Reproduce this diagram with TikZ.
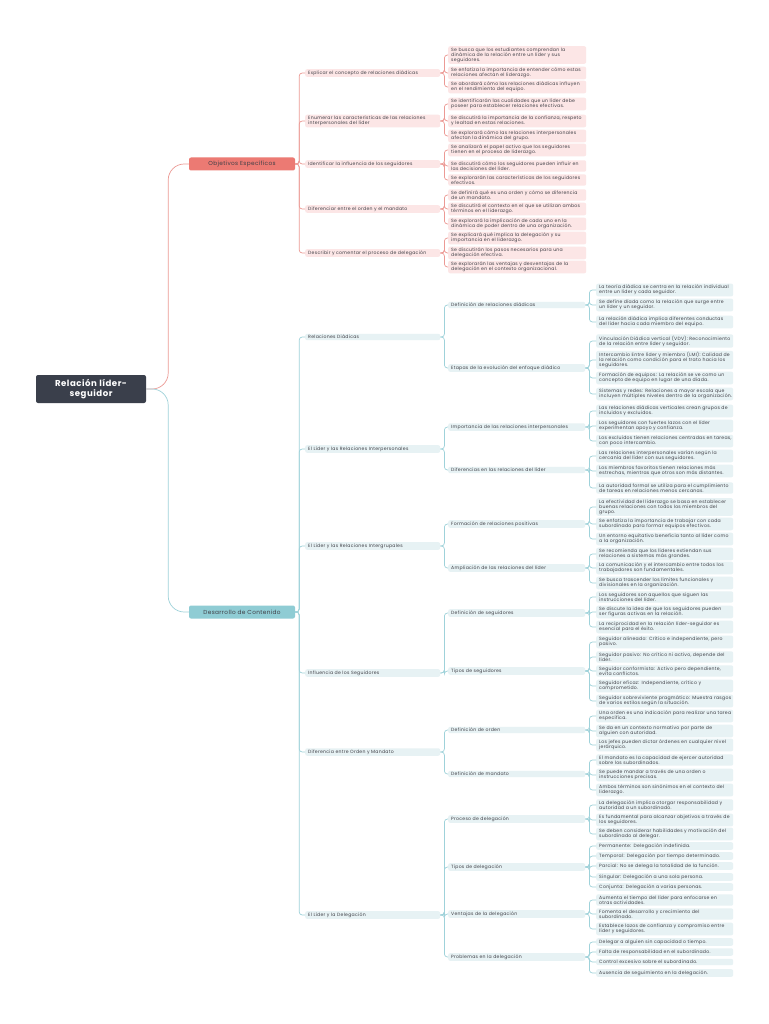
\documentclass[tikz,border=0pt]{standalone}
\usepackage{fontspec}
\setmainfont{Poppins}[LetterSpace=6]
\hyphenpenalty=10000
\exhyphenpenalty=10000
\usetikzlibrary{positioning}
\definecolor{pinkfill}{HTML}{FCE6E6}
\definecolor{pinkline}{HTML}{EC9A95}
\definecolor{redbox}{HTML}{EC7A73}
\definecolor{bluefill}{HTML}{E7F2F4}
\definecolor{blueline}{HTML}{9FD2DA}
\definecolor{tealbox}{HTML}{8FCCD4}
\definecolor{rootfill}{HTML}{3A3F4B}
\definecolor{txt}{HTML}{3F3F46}
\newcommand\tsz{\fontsize{4.6pt}{5pt}\selectfont}
\tikzset{
 base/.style={anchor=west,rounded corners=2pt,inner xsep=3pt,inner ysep=1.4pt,align=left,text=txt,font=\tsz},
 pleaf/.style={base,fill=pinkfill,text width=132pt},
 bleaf/.style={base,fill=bluefill,text width=131pt},
 pmid/.style={base,fill=pinkfill,text width=129pt},
 bmid/.style={base,fill=bluefill,text width=129pt},
 bmid3/.style={base,fill=bluefill,text width=131pt},
 fork/.style={to path={(\tikztostart) -- ++(4,0) |- (\tikztotarget)}},
 bigfork/.style={to path={(\tikztostart) -- ++(22,0) |- (\tikztotarget)}},
 pl/.style={draw=pinkline,line width=0.7pt,rounded corners=3pt},
 bl/.style={draw=blueline,line width=0.7pt,rounded corners=3pt},
}
\newcommand\pleafn[3]{\node[pleaf] (#1) at (448,#2) {#3};}
\newcommand\bleafn[3]{\node[bleaf] (#1) at (596,#2) {#3};}
\begin{document}
\begin{tikzpicture}[x=1pt,y=-1pt]
\useasboundingbox[fill=white] (0,0) rectangle (768,1024);
\node[fill=rootfill,rounded corners=2pt,text=white,font=\fontsize{8.6pt}{10pt}\selectfont\bfseries,align=center,minimum width=110pt,minimum height=28pt] (root) at (91,389) {Relación líder-\\seguidor};
\node[fill=redbox,rounded corners=2pt,text=txt,font=\fontsize{5.8pt}{6.5pt}\selectfont,minimum width=106pt,minimum height=13pt] (obj) at (242,164) {Objetivos Específicos};
\node[fill=tealbox,rounded corners=2pt,text=txt,font=\fontsize{5.8pt}{6.5pt}\selectfont,minimum width=106pt,minimum height=13pt] (des) at (242,612) {Desarrollo de Contenido};
\draw[pl,rounded corners=16pt] (root.east) to[bigfork] (obj.west);
\draw[bl,rounded corners=16pt] (root.east) to[bigfork] (des.west);
\node[pmid] (o1) at (305,73) {Explicar el concepto de relaciones diádicas};
\node[pmid] (o2) at (305,121) {Enumerar las características de las relaciones interpersonales del líder};
\node[pmid] (o3) at (305,164) {Identificar la influencia de los seguidores};
\node[pmid] (o4) at (305,209) {Diferenciar entre el orden y el mandato};
\node[pmid] (o5) at (305,253) {Describir y comentar el proceso de delegación};
\draw[pl] (obj.east) edge[fork] (o1.west) edge[fork] (o2.west) edge[fork] (o3.west) edge[fork] (o4.west) edge[fork] (o5.west);
\pleafn{p1}{55}{Se busca que los estudiantes comprendan la dinámica de la relación entre un líder y sus seguidores.}
\pleafn{p2}{73}{Se enfatiza la importancia de entender cómo estas relaciones afectan el liderazgo.}
\pleafn{p3}{87}{Se abordará cómo las relaciones diádicas influyen en el rendimiento del equipo.}
\pleafn{p4}{104}{Se identificarán las cualidades que un líder debe poseer para establecer relaciones efectivas.}
\pleafn{p5}{121}{Se discutirá la importancia de la confianza, respeto y lealtad en estas relaciones.}
\pleafn{p6}{136}{Se explorará cómo las relaciones interpersonales afectan la dinámica del grupo.}
\pleafn{p7}{150}{Se analizará el papel activo que los seguidores tienen en el proceso de liderazgo.}
\pleafn{p8}{166}{Se discutirá cómo los seguidores pueden influir en las decisiones del líder.}
\pleafn{p9}{180}{Se explorarán las características de los seguidores efectivos.}
\pleafn{p10}{195}{Se definirá qué es una orden y cómo se diferencia de un mandato.}
\pleafn{p11}{209}{Se discutirá el contexto en el que se utilizan ambos términos en el liderazgo.}
\pleafn{p12}{224}{Se explorará la implicación de cada uno en la dinámica de poder dentro de una organización.}
\pleafn{p13}{238}{Se explicará qué implica la delegación y su importancia en el liderazgo.}
\pleafn{p14}{253}{Se discutirán los pasos necesarios para una delegación efectiva.}
\pleafn{p15}{267}{Se explorarán las ventajas y desventajas de la delegación en el contexto organizacional.}
\draw[pl] (o1.east) edge[fork] (p1.west) edge[fork] (p2.west) edge[fork] (p3.west);
\draw[pl] (o2.east) edge[fork] (p4.west) edge[fork] (p5.west) edge[fork] (p6.west);
\draw[pl] (o3.east) edge[fork] (p7.west) edge[fork] (p8.west) edge[fork] (p9.west);
\draw[pl] (o4.east) edge[fork] (p10.west) edge[fork] (p11.west) edge[fork] (p12.west);
\draw[pl] (o5.east) edge[fork] (p13.west) edge[fork] (p14.west) edge[fork] (p15.west);
\node[bmid] (d1) at (305,337) {Relaciones Diádicas};
\node[bmid] (d2) at (305,449) {El Líder y las Relaciones Interpersonales};
\node[bmid] (d3) at (305,546) {El Líder y las Relaciones Intergrupales};
\node[bmid] (d4) at (305,673) {Influencia de los Seguidores};
\node[bmid] (d5) at (305,752) {Diferencia entre Orden y Mandato};
\node[bmid] (d6) at (305,915) {El Líder y la Delegación};
\draw[bl] (des.east) edge[fork] (d1.west) edge[fork] (d2.west) edge[fork] (d3.west) edge[fork] (d4.west) edge[fork] (d5.west) edge[fork] (d6.west);
\node[bmid3] (d1a) at (448,305) {Definición de relaciones diádicas};
\node[bmid3] (d1b) at (448,368) {Etapas de la evolución del enfoque diádico};
\node[bmid3] (d2a) at (448,427) {Importancia de las relaciones interpersonales};
\node[bmid3] (d2b) at (448,470) {Diferencias en las relaciones del líder};
\node[bmid3] (d3a) at (448,524) {Formación de relaciones positivas};
\node[bmid3] (d3b) at (448,568) {Ampliación de las relaciones del líder};
\node[bmid3] (d4a) at (448,613) {Definición de seguidores};
\node[bmid3] (d4b) at (448,671) {Tipos de seguidores};
\node[bmid3] (d5a) at (448,730) {Definición de orden};
\node[bmid3] (d5b) at (448,774) {Definición de mandato};
\node[bmid3] (d6a) at (448,819) {Proceso de delegación};
\node[bmid3] (d6b) at (448,867) {Tipos de delegación};
\node[bmid3] (d6c) at (448,914) {Ventajas de la delegación};
\node[bmid3] (d6d) at (448,957) {Problemas en la delegación};
\draw[bl] (d1.east) edge[fork] (d1a.west) edge[fork] (d1b.west);
\draw[bl] (d2.east) edge[fork] (d2a.west) edge[fork] (d2b.west);
\draw[bl] (d3.east) edge[fork] (d3a.west) edge[fork] (d3b.west);
\draw[bl] (d4.east) edge[fork] (d4a.west) edge[fork] (d4b.west);
\draw[bl] (d5.east) edge[fork] (d5a.west) edge[fork] (d5b.west);
\draw[bl] (d6.east) edge[fork] (d6a.west) edge[fork] (d6b.west) edge[fork] (d6c.west) edge[fork] (d6d.west);
\bleafn{l1}{290}{La teoría diádica se centra en la relación individual entre un líder y cada seguidor.}
\bleafn{l2}{305}{Se define díada como la relación que surge entre un líder y un seguidor.}
\bleafn{l3}{322}{La relación diádica implica diferentes conductas del líder hacia cada miembro del equipo.}
\bleafn{l4}{341}{Vinculación Diádica vertical (VDV): Reconocimiento de la relación entre líder y seguidor.}
\bleafn{l5}{360}{Intercambio Entre líder y miembro (LMI): Calidad de la relación como condición para el trato hacia los seguidores.}
\bleafn{l6}{378}{Formación de equipos: La relación se ve como un concepto de equipo en lugar de una díada.}
\bleafn{l7}{394}{Sistemas y redes: Relaciones a mayor escala que incluyen múltiples niveles dentro de la organización.}
\bleafn{l8}{411}{Las relaciones diádicas verticales crean grupos de incluidos y excluidos.}
\bleafn{l9}{426}{Los seguidores con fuertes lazos con el líder experimentan apoyo y confianza.}
\bleafn{l10}{441}{Los excluidos tienen relaciones centradas en tareas, con poco intercambio.}
\bleafn{l11}{456}{Las relaciones interpersonales varían según la cercanía del líder con sus seguidores.}
\bleafn{l12}{471}{Los miembros favoritos tienen relaciones más estrechas, mientras que otros son más distantes.}
\bleafn{l13}{488}{La autoridad formal se utiliza para el cumplimiento de tareas en relaciones menos cercanas.}
\bleafn{l14}{507}{La efectividad del liderazgo se basa en establecer buenas relaciones con todos los miembros del grupo.}
\bleafn{l15}{524}{Se enfatiza la importancia de trabajar con cada subordinado para formar equipos efectivos.}
\bleafn{l16}{539}{Un entorno equitativo beneficia tanto al líder como a la organización.}
\bleafn{l17}{554}{Se recomienda que los líderes extiendan sus relaciones a sistemas más grandes.}
\bleafn{l18}{568}{La comunicación y el intercambio entre todos los trabajadores son fundamentales.}
\bleafn{l19}{583}{Se busca trascender los límites funcionales y divisionales en la organización.}
\bleafn{l20}{597}{Los seguidores son aquellos que siguen las instrucciones del líder.}
\bleafn{l21}{612}{Se discute la idea de que los seguidores pueden ser figuras activas en la relación.}
\bleafn{l22}{627}{La reciprocidad en la relación líder-seguidor es esencial para el éxito.}
\bleafn{l23}{642}{Seguidor alineado: Crítico e independiente, pero pasivo.}
\bleafn{l24}{657}{Seguidor pasivo: No crítico ni activo, depende del líder.}
\bleafn{l25}{671}{Seguidor conformista: Activo pero dependiente, evita conflictos.}
\bleafn{l26}{686}{Seguidor eficaz: Independiente, crítico y comprometido.}
\bleafn{l27}{701}{Seguidor sobreviviente pragmático: Muestra rasgos de varios estilos según la situación.}
\bleafn{l28}{716}{Una orden es una indicación para realizar una tarea específica.}
\bleafn{l29}{731}{Se da en un contexto normativo por parte de alguien con autoridad.}
\bleafn{l30}{745}{Los jefes pueden dictar órdenes en cualquier nivel jerárquico.}
\bleafn{l31}{760}{El mandato es la capacidad de ejercer autoridad sobre los subordinados.}
\bleafn{l32}{775}{Se puede mandar a través de una orden o instrucciones precisas.}
\bleafn{l33}{790}{Ambos términos son sinónimos en el contexto del liderazgo.}
\bleafn{l34}{805}{La delegación implica otorgar responsabilidad y autoridad a un subordinado.}
\bleafn{l35}{820}{Es fundamental para alcanzar objetivos a través de los seguidores.}
\bleafn{l36}{834}{Se deben considerar habilidades y motivación del subordinado al delegar.}
\bleafn{l37}{846}{Permanente: Delegación indefinida.}
\bleafn{l38}{856}{Temporal: Delegación por tiempo determinado.}
\bleafn{l39}{866}{Parcial: No se delega la totalidad de la función.}
\bleafn{l40}{877}{Singular: Delegación a una sola persona.}
\bleafn{l41}{887}{Conjunta: Delegación a varias personas.}
\bleafn{l42}{900}{Aumenta el tiempo del líder para enfocarse en otras actividades.}
\bleafn{l43}{914}{Fomenta el desarrollo y crecimiento del subordinado.}
\bleafn{l44}{929}{Establece lazos de confianza y compromiso entre líder y seguidores.}
\bleafn{l45}{942}{Delegar a alguien sin capacidad o tiempo.}
\bleafn{l46}{952}{Falta de responsabilidad en el subordinado.}
\bleafn{l47}{962}{Control excesivo sobre el subordinado.}
\bleafn{l48}{973}{Ausencia de seguimiento en la delegación.}
\draw[bl] (d1a.east) edge[fork] (l1.west) edge[fork] (l2.west) edge[fork] (l3.west);
\draw[bl] (d1b.east) edge[fork] (l4.west) edge[fork] (l5.west) edge[fork] (l6.west) edge[fork] (l7.west);
\draw[bl] (d2a.east) edge[fork] (l8.west) edge[fork] (l9.west) edge[fork] (l10.west);
\draw[bl] (d2b.east) edge[fork] (l11.west) edge[fork] (l12.west) edge[fork] (l13.west);
\draw[bl] (d3a.east) edge[fork] (l14.west) edge[fork] (l15.west) edge[fork] (l16.west);
\draw[bl] (d3b.east) edge[fork] (l17.west) edge[fork] (l18.west) edge[fork] (l19.west);
\draw[bl] (d4a.east) edge[fork] (l20.west) edge[fork] (l21.west) edge[fork] (l22.west);
\draw[bl] (d4b.east) edge[fork] (l23.west) edge[fork] (l24.west) edge[fork] (l25.west) edge[fork] (l26.west) edge[fork] (l27.west);
\draw[bl] (d5a.east) edge[fork] (l28.west) edge[fork] (l29.west) edge[fork] (l30.west);
\draw[bl] (d5b.east) edge[fork] (l31.west) edge[fork] (l32.west) edge[fork] (l33.west);
\draw[bl] (d6a.east) edge[fork] (l34.west) edge[fork] (l35.west) edge[fork] (l36.west);
\draw[bl] (d6b.east) edge[fork] (l37.west) edge[fork] (l38.west) edge[fork] (l39.west) edge[fork] (l40.west) edge[fork] (l41.west);
\draw[bl] (d6c.east) edge[fork] (l42.west) edge[fork] (l43.west) edge[fork] (l44.west);
\draw[bl] (d6d.east) edge[fork] (l45.west) edge[fork] (l46.west) edge[fork] (l47.west) edge[fork] (l48.west);
\end{tikzpicture}
\end{document}
